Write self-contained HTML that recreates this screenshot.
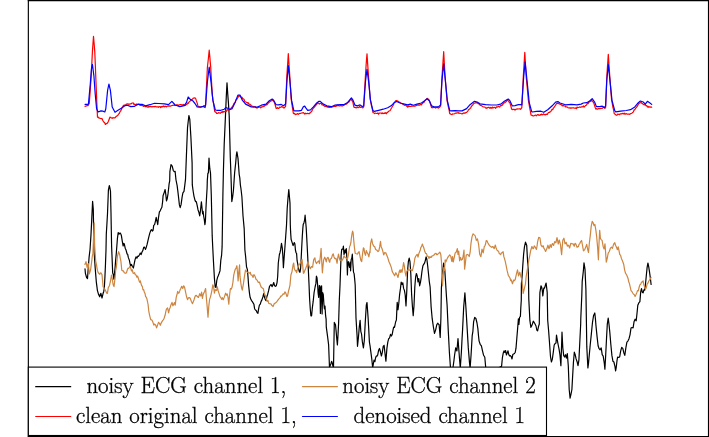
<!DOCTYPE html>
<html><head><meta charset="utf-8"><style>
html,body{margin:0;padding:0;background:#fff;}
body{width:709px;height:437px;overflow:hidden;}
svg{display:block;}
text{stroke:#000;stroke-width:0.3px;font-family:"LM Roman 17","Latin Modern Roman","Liberation Serif",serif;font-size:23.4px;fill:#000;}
</style></head><body>
<svg width="709" height="437" viewBox="0 0 709 437">
<rect x="0" y="0" width="709" height="437" fill="#fff"/>
<g fill="none" stroke-linejoin="round" stroke-linecap="round" stroke-width="1.2">
<polyline stroke="#000" points="85.00,268.8 85.40,273.3 86.60,277.5 87.50,278.5 88.30,267.5 89.10,257.1 90.00,249.8 91.00,234.6 91.80,218.1 92.60,201.3 93.30,209.2 94.00,250.2 95.10,266.8 95.70,274.4 96.30,281.8 97.40,290.3 98.60,294.6 99.70,296.8 100.30,294.4 100.90,293.3 102.00,298.0 103.10,293.3 103.70,291.7 104.30,288.2 104.90,277.4 105.40,266.2 106.00,249.9 106.30,234.1 106.90,224.2 107.50,213.8 108.40,190.2 109.30,185.5 109.90,187.9 110.50,191.4 111.00,213.3 111.60,246.1 112.70,273.0 113.30,274.6 113.90,279.1 115.00,268.6 115.65,260.0 116.30,253.3 117.40,238.7 118.20,232.6 119.10,234.1 120.10,233.0 120.90,234.1 121.40,235.7 122.30,241.3 123.10,246.0 123.70,243.4 124.30,244.0 125.20,248.2 126.00,249.9 127.10,254.0 127.70,254.3 128.30,257.4 129.40,260.4 130.00,263.3 130.60,266.0 131.50,264.4 132.30,266.2 133.40,268.0 134.20,263.9 135.10,259.4 136.10,256.8 136.90,258.2 137.80,256.2 138.60,256.3 139.50,254.8 140.30,253.0 141.10,254.6 142.00,252.0 142.90,250.4 143.70,247.4 144.50,247.1 145.40,249.4 146.30,247.2 147.10,244.4 147.90,240.8 148.90,236.7 149.80,233.1 150.90,230.3 151.63,229.6 152.37,231.1 153.10,230.3 153.70,225.4 154.60,224.6 155.40,221.3 156.20,217.3 157.10,221.5 157.70,224.7 158.50,217.7 159.40,211.9 160.20,210.8 161.10,208.7 161.90,207.3 162.60,201.7 163.10,195.4 163.80,193.8 164.60,191.1 165.10,189.5 165.70,193.6 166.50,200.9 167.20,198.8 168.00,193.9 168.60,188.7 169.10,183.9 169.70,180.8 169.90,171.7 171.00,164.6 172.20,166.2 173.30,170.5 174.20,171.7 175.10,171.3 176.00,180.0 177.10,185.4 177.90,191.6 178.60,197.8 179.40,204.9 180.20,207.6 181.10,204.4 182.10,197.2 182.90,192.9 184.00,191.4 184.80,185.2 185.50,179.4 186.40,156.1 187.50,127.9 188.20,121.5 188.90,115.5 189.80,119.4 190.90,137.3 192.10,162.7 192.30,184.9 193.20,191.5 194.00,196.3 195.10,200.6 195.70,201.6 196.30,201.6 197.10,205.1 198.00,209.7 198.90,212.4 199.70,215.9 200.50,210.3 201.40,201.9 202.00,207.8 202.60,213.8 203.10,211.4 203.70,216.5 204.30,219.7 204.90,224.7 205.40,221.1 206.00,207.5 206.60,196.2 207.10,188.0 207.30,180.4 207.90,173.0 208.40,173.0 209.00,158.0 209.80,168.7 210.50,172.8 211.30,195.4 212.20,235.9 212.80,248.5 213.40,260.3 214.40,278.1 215.20,287.0 216.00,287.4 216.80,280.3 217.60,277.2 218.25,275.7 218.90,274.0 220.00,270.9 220.80,260.4 221.60,255.2 222.10,246.9 222.90,194.5 223.40,171.5 224.20,144.3 224.90,128.6 225.60,112.7 226.30,96.2 227.00,82.8 227.73,93.9 228.47,103.6 229.20,115.8 230.30,157.4 230.95,174.8 231.60,195.1 231.80,201.6 232.60,197.2 233.40,190.7 234.60,173.1 235.70,162.9 236.30,155.7 236.90,151.9 238.00,158.4 239.20,174.5 239.80,177.9 240.40,185.1 241.00,189.0 241.90,196.7 243.00,215.7 244.20,228.9 244.90,250.0 245.70,257.4 246.50,266.8 247.40,269.6 248.00,276.8 248.60,285.1 249.40,292.6 250.10,297.3 250.90,299.4 251.70,300.8 252.30,301.5 253.10,302.9 253.90,304.2 254.60,308.7 255.40,310.0 256.20,310.5 257.10,312.6 257.90,313.3 258.60,308.8 259.40,305.1 260.30,304.1 261.10,301.4 261.90,299.9 262.90,296.9 263.70,293.7 264.60,297.6 265.40,299.9 266.10,300.7 266.90,296.5 267.70,294.2 268.60,290.7 269.50,286.5 270.30,285.2 271.10,284.6 272.00,286.6 272.90,284.9 273.70,282.5 274.50,285.5 275.40,286.4 276.30,285.7 277.10,282.3 277.70,276.2 278.30,263.0 279.40,254.5 280.00,252.7 280.60,249.9 281.50,243.3 282.30,248.0 282.90,256.7 283.40,267.6 284.00,259.1 284.90,247.5 285.70,236.4 286.50,225.2 287.20,208.5 288.00,198.1 288.80,189.5 290.00,203.2 290.30,224.5 290.60,231.9 291.10,239.3 292.00,242.1 293.10,245.6 294.30,242.5 294.90,244.0 295.40,249.8 296.00,252.5 296.60,253.6 297.10,260.7 297.70,263.6 298.30,267.0 298.90,270.0 299.40,271.9 300.00,272.2 300.60,268.7 301.10,259.7 301.70,247.7 302.30,236.3 302.90,227.5 303.20,224.6 303.90,222.9 304.60,220.1 305.10,215.2 306.20,227.7 307.20,246.5 308.10,264.6 309.00,283.8 309.60,298.7 310.30,309.3 310.90,315.8 311.60,315.8 312.40,307.3 313.20,301.2 314.10,292.5 315.10,287.0 315.90,283.4 316.40,276.2 317.00,277.8 317.60,284.6 318.10,293.0 318.70,297.3 319.30,285.5 319.90,286.0 320.40,313.5 321.00,287.5 321.60,285.9 322.10,314.0 322.70,292.6 323.30,294.7 323.90,304.1 324.40,308.8 325.00,306.0 325.60,315.7 326.10,319.2 326.30,327.2 327.50,335.8 328.60,344.6 329.50,367.6 330.20,365.6 330.90,363.7 331.60,361.3 332.23,363.0 332.87,365.8 333.50,367.8 334.30,322.4 335.50,324.8 336.13,331.4 336.77,338.9 337.40,345.0 338.00,335.0 338.60,323.3 339.30,300.2 340.00,285.7 340.60,268.3 341.10,255.7 341.70,249.4 342.30,249.0 342.90,249.3 343.40,246.2 344.00,254.5 344.60,252.4 345.10,249.9 345.70,252.9 346.30,248.5 346.90,258.3 347.40,275.0 347.80,263.9 348.30,261.7 348.90,264.9 349.50,267.4 350.10,262.2 350.60,270.8 351.20,259.6 351.80,258.2 352.30,254.2 352.90,263.9 353.50,272.1 354.10,273.6 354.60,278.4 355.20,285.0 356.00,318.0 357.10,336.1 357.50,346.3 358.40,337.8 359.30,326.9 360.10,320.3 360.80,331.3 361.50,333.8 362.40,341.9 363.40,348.0 364.30,340.8 365.20,323.2 366.30,305.2 367.00,302.5 368.10,317.7 368.75,329.5 369.40,342.0 370.05,345.8 370.70,350.8 371.80,359.2 372.70,367.9 373.50,363.0 374.00,360.1 374.90,361.7 375.55,358.0 376.20,356.2 376.95,356.1 377.70,354.9 378.60,350.3 379.50,348.5 380.40,351.5 381.40,356.0 382.30,352.4 383.20,346.4 384.10,345.3 385.00,353.5 385.90,361.2 386.90,348.4 387.80,342.2 388.70,338.7 389.60,337.9 390.50,334.4 391.40,336.0 392.10,334.8 392.80,331.1 393.65,327.2 394.50,327.3 395.60,322.0 396.40,319.9 397.20,302.4 398.00,309.8 398.80,303.3 399.60,294.6 400.40,288.9 401.20,282.1 402.00,284.4 402.80,282.9 403.60,288.4 404.40,290.4 405.20,295.0 406.00,305.9 406.80,290.6 407.60,270.5 408.40,261.3 409.20,258.2 410.00,261.9 410.80,273.8 411.60,294.1 412.40,306.2 413.20,315.6 414.00,305.8 414.80,287.2 415.60,277.2 416.40,273.5 417.20,275.9 418.00,281.8 418.80,278.5 419.60,285.8 420.40,282.6 421.20,277.6 422.00,271.0 422.90,265.8 423.70,264.4 424.50,263.2 425.30,260.6 426.10,256.8 426.90,259.5 427.70,266.0 428.50,273.8 429.30,281.6 430.10,286.8 431.10,306.6 432.20,318.7 433.40,327.0 434.50,333.4 435.60,330.1 436.80,324.7 437.90,323.2 438.50,324.2 439.10,324.5 440.20,337.4 440.90,317.9 441.40,288.1 442.50,272.1 443.60,263.2 444.80,270.1 445.90,287.8 446.50,297.1 447.10,305.3 448.20,329.4 449.40,352.5 450.50,368.1 451.17,369.6 451.83,371.2 452.50,371.7 453.20,366.0 453.90,360.8 454.60,355.0 455.70,347.8 456.90,351.0 458.00,338.5 458.70,348.0 459.60,359.7 460.30,367.9 461.40,351.8 462.00,339.7 462.60,329.4 463.70,306.9 464.90,292.9 466.00,308.8 467.20,329.1 468.30,347.9 469.50,362.6 470.10,368.1 471.10,354.5 472.20,335.6 472.90,331.3 473.60,321.9 474.70,317.4 475.90,318.5 477.00,323.0 477.90,328.9 478.50,335.7 479.10,341.1 480.20,344.3 481.40,345.9 482.50,350.8 483.60,355.3 484.80,357.3 485.90,369.6 486.51,370.4 487.12,371.7 487.73,371.7 488.34,372.7 488.95,371.5 489.56,373.9 490.17,374.0 490.78,372.6 491.39,375.9 492.00,376.0 492.61,373.8 493.22,374.1 493.83,374.8 494.44,371.7 495.05,370.7 495.66,370.8 496.27,371.0 496.88,370.5 497.49,371.0 498.10,370.1 498.83,367.5 499.57,367.8 500.30,366.7 500.95,366.9 501.60,366.1 502.40,357.7 503.20,353.3 504.00,350.9 504.80,352.4 505.60,350.5 506.40,355.0 507.20,353.1 508.00,350.8 508.80,354.6 509.60,355.8 510.40,355.6 511.20,356.6 512.00,359.0 512.80,354.6 513.60,354.1 514.40,353.5 515.20,352.5 516.00,348.2 516.80,338.5 517.60,328.9 518.40,318.9 518.90,324.4 519.60,317.3 520.40,316.4 520.80,307.8 521.30,300.0 521.40,283.6 522.10,276.1 522.80,265.4 523.60,254.5 524.40,247.2 525.50,242.1 526.10,243.6 526.70,245.1 527.30,256.2 528.40,273.6 528.80,299.2 529.30,309.0 529.90,320.7 530.90,327.3 531.70,325.9 532.50,323.8 533.30,321.2 534.10,322.3 534.90,323.7 536.00,326.0 536.80,330.0 537.60,330.9 538.50,326.7 539.30,324.0 539.40,311.9 539.90,292.6 541.00,285.9 541.60,287.0 542.20,289.8 542.80,296.0 543.80,288.0 544.45,288.2 545.10,286.2 546.10,283.0 547.20,292.4 547.70,320.3 548.70,331.9 549.60,344.0 550.50,356.7 551.40,362.0 552.30,359.4 553.20,352.9 554.20,345.0 555.10,343.6 556.00,343.0 556.50,335.0 557.30,340.1 558.20,345.0 559.10,349.4 560.00,355.2 560.90,365.7 561.50,347.8 562.00,332.2 562.80,347.7 563.70,355.6 564.60,357.0 565.50,354.7 566.40,358.2 567.30,353.5 568.30,366.0 569.20,389.5 570.10,398.1 571.00,394.1 571.90,389.5 572.50,378.5 573.40,362.9 574.30,352.2 575.20,354.6 576.10,358.9 577.10,361.7 578.00,365.6 578.90,360.1 579.80,342.3 580.70,323.8 580.80,318.1 581.80,295.3 582.20,281.4 583.40,270.5 584.00,262.8 585.00,269.4 585.90,289.2 586.80,346.9 587.90,368.0 588.50,363.4 589.10,356.9 590.20,345.0 591.40,333.4 592.50,322.3 593.60,315.4 594.80,313.0 595.40,318.5 596.00,326.0 597.10,336.9 598.10,345.7 599.10,348.7 600.10,349.8 601.20,347.9 602.20,354.7 603.20,356.1 604.30,363.2 604.90,369.1 605.70,355.0 606.50,339.0 607.30,324.1 608.20,318.0 609.00,324.3 609.80,332.1 610.80,344.0 611.90,355.4 612.90,361.2 613.90,362.0 615.00,366.7 615.60,371.0 616.20,367.6 617.00,360.7 617.60,357.2 618.70,357.5 619.70,356.7 620.70,350.9 621.70,347.3 622.80,348.4 623.80,352.7 624.80,355.4 625.90,347.6 626.90,342.1 627.90,341.1 629.00,338.7 630.00,334.8 631.00,328.1 632.00,327.5 633.10,327.9 634.10,321.4 635.10,319.2 636.20,320.8 637.20,311.5 637.80,305.3 638.80,302.9 639.90,301.6 640.70,291.8 641.50,288.6 642.30,292.2 643.10,292.9 643.90,289.9 644.70,290.2 645.50,284.0 646.30,275.7 647.10,267.6 647.90,263.0 648.70,266.6 649.50,271.8 650.30,277.6 651.10,284.5"/>
<polyline stroke="#ff0000" points="85.10,106.4 85.83,106.0 86.57,105.9 87.30,105.4 87.97,105.6 88.63,104.5 89.30,103.2 89.93,94.4 90.57,85.1 91.20,75.7 91.80,64.2 92.40,51.9 93.50,36.3 94.15,43.9 94.80,52.1 95.45,68.5 96.10,85.1 97.00,106.9 97.50,117.1 98.27,117.2 99.03,118.1 99.80,118.2 100.53,118.5 101.27,118.7 102.00,118.6 102.85,120.5 103.70,122.0 104.55,122.6 105.40,124.5 106.17,123.6 106.93,123.7 107.70,122.7 108.43,121.2 109.17,119.2 109.90,117.1 110.67,117.6 111.43,117.8 112.20,118.4 112.90,117.7 113.60,117.8 114.30,117.9 115.00,118.0 115.73,116.9 116.47,116.2 117.20,115.9 117.90,115.3 118.60,113.9 119.30,113.5 120.00,111.7 120.70,111.0 121.40,109.6 122.10,107.4 122.80,106.6 123.50,105.4 124.20,105.0 124.90,105.0 125.60,105.2 126.30,104.1 126.98,104.0 127.66,103.8 128.34,104.3 129.02,104.0 129.70,104.1 130.43,103.8 131.17,103.8 131.90,103.1 132.58,103.0 133.26,102.9 133.94,104.4 134.62,104.2 135.30,104.7 135.98,104.4 136.66,104.1 137.34,104.6 138.02,104.4 138.70,104.2 139.38,104.3 140.06,105.5 140.74,105.2 141.42,105.5 142.10,105.6 142.78,105.6 143.46,106.4 144.14,106.2 144.82,106.2 145.50,106.7 146.14,106.4 146.79,106.8 147.43,107.1 148.07,106.4 148.71,107.2 149.36,106.5 150.00,106.7 150.64,106.4 151.29,106.7 151.93,106.8 152.57,106.7 153.21,106.6 153.86,106.6 154.50,106.8 155.14,106.3 155.79,106.7 156.43,106.8 157.07,106.9 157.71,106.8 158.36,107.3 159.00,106.5 160.00,106.8 160.62,107.5 161.24,106.4 161.87,107.1 162.49,106.3 163.11,106.7 163.73,105.9 164.36,106.8 164.98,106.4 165.60,106.2 166.23,106.9 166.87,106.5 167.50,106.2 168.13,105.9 168.77,106.1 169.40,105.9 170.03,106.2 170.67,106.1 171.30,105.7 171.94,105.5 172.59,105.4 173.23,105.1 173.87,105.3 174.51,105.3 175.16,105.5 175.80,105.4 176.44,104.8 177.09,105.2 177.73,104.8 178.37,105.6 179.01,104.8 179.66,104.9 180.30,104.5 180.94,104.5 181.59,104.9 182.23,104.8 182.87,105.1 183.51,104.5 184.16,105.4 184.80,105.0 185.48,105.4 186.16,104.3 186.84,104.4 187.52,103.2 188.20,103.4 188.97,102.1 189.73,101.4 190.50,100.7 191.20,99.9 191.90,99.4 192.60,98.9 193.30,98.0 194.07,98.1 194.83,97.8 195.60,98.4 196.40,100.9 197.20,103.1 197.80,105.4 198.40,106.7 199.08,106.6 199.76,107.0 200.44,106.9 201.12,106.8 201.80,106.5 202.50,106.5 203.20,106.3 203.90,105.6 204.60,105.8 205.60,105.1 206.20,91.8 206.80,80.0 207.40,67.3 208.30,59.2 209.20,50.2 209.95,58.4 210.70,67.3 211.50,81.3 212.30,95.0 213.10,101.0 213.90,106.2 214.70,111.4 215.33,112.2 215.97,112.0 216.60,113.4 217.60,113.3 218.24,112.9 218.89,112.6 219.53,113.0 220.17,113.3 220.81,112.6 221.46,112.0 222.10,112.6 222.74,111.4 223.39,112.1 224.03,111.5 224.67,111.8 225.31,111.0 225.96,111.6 226.60,111.0 227.25,110.0 227.90,109.6 228.55,109.9 229.20,110.2 229.85,109.5 230.50,109.2 231.22,108.0 231.95,107.2 232.68,106.0 233.40,104.7 234.06,103.2 234.72,102.8 235.38,101.8 236.04,99.7 236.70,99.4 237.47,98.3 238.23,97.0 239.00,95.9 240.00,96.3 240.68,97.0 241.36,97.1 242.04,97.3 242.72,98.8 243.40,98.9 244.08,99.5 244.76,101.4 245.44,101.8 246.12,102.1 246.80,102.3 247.44,103.1 248.09,102.6 248.73,103.9 249.37,104.1 250.01,104.4 250.66,104.8 251.30,105.9 251.92,106.1 252.54,106.3 253.17,106.8 253.79,106.4 254.41,106.5 255.03,106.5 255.66,107.2 256.28,107.8 256.90,107.8 257.53,107.9 258.17,107.2 258.80,107.3 259.43,107.1 260.07,106.9 260.70,107.9 261.33,107.4 261.97,106.7 262.60,106.8 263.24,106.6 263.89,105.8 264.53,106.1 265.17,105.2 265.81,105.2 266.46,104.7 267.10,104.6 267.78,103.6 268.46,102.8 269.14,102.3 269.82,101.7 270.50,101.2 271.23,100.8 271.97,100.7 272.70,99.7 273.55,100.9 274.40,102.5 275.25,105.0 276.10,108.4 276.80,108.3 277.50,107.7 278.20,108.5 278.90,108.4 279.62,107.0 280.35,107.3 281.07,107.1 281.80,106.6 282.53,106.9 283.27,107.4 284.00,108.2 284.80,107.2 285.60,106.5 286.80,76.5 287.55,65.6 288.30,53.7 289.05,65.2 289.80,76.4 290.45,86.9 291.10,98.5 291.87,103.8 292.63,109.0 293.40,113.4 294.00,113.7 294.60,113.4 295.20,114.4 295.80,114.6 296.40,114.2 297.06,114.1 297.71,113.6 298.37,114.3 299.03,113.8 299.69,113.4 300.34,113.4 301.00,113.2 301.64,113.0 302.29,112.8 302.93,112.8 303.57,112.7 304.21,113.5 304.86,114.2 305.50,113.2 306.16,113.6 306.82,113.7 307.48,113.3 308.14,113.7 308.80,113.5 309.57,113.6 310.33,112.4 311.10,112.0 311.78,111.2 312.46,109.8 313.14,108.3 313.82,107.7 314.50,107.0 315.18,106.1 315.86,105.4 316.54,104.2 317.22,103.8 317.90,103.1 318.60,103.2 319.30,104.0 320.00,103.5 320.68,103.5 321.36,103.6 322.04,104.9 322.72,104.8 323.40,105.4 324.08,105.7 324.76,106.4 325.44,106.5 326.12,106.3 326.80,106.7 327.44,107.2 328.09,106.4 328.73,107.4 329.37,107.4 330.01,107.4 330.66,107.1 331.30,107.3 331.92,106.7 332.54,106.9 333.17,106.5 333.79,106.6 334.41,106.2 335.03,106.4 335.66,106.5 336.28,105.5 336.90,106.0 337.53,105.1 338.17,105.0 338.80,105.8 339.43,105.8 340.07,106.0 340.70,105.2 341.33,105.8 341.97,105.8 342.60,106.0 343.24,105.4 343.89,105.3 344.53,104.5 345.17,104.4 345.81,104.0 346.46,104.1 347.10,103.3 347.75,102.5 348.40,102.2 349.05,101.9 349.70,100.6 350.35,99.9 351.00,98.9 351.85,100.5 352.70,101.4 353.90,107.2 354.63,107.4 355.37,107.4 356.10,108.0 356.78,107.5 357.46,107.1 358.14,107.7 358.82,107.3 359.50,106.5 360.18,107.5 360.86,107.2 361.54,107.0 362.22,107.7 362.90,107.8 363.70,106.7 364.33,94.9 364.97,84.3 365.60,73.1 366.30,62.4 367.00,53.8 367.65,63.6 368.30,72.9 368.90,81.6 369.50,90.0 370.10,98.5 370.80,101.9 371.50,105.9 372.20,108.4 372.90,112.3 373.50,112.8 374.10,113.0 374.70,113.6 375.34,113.1 375.98,113.3 376.61,113.5 377.25,113.5 377.89,113.0 378.52,114.3 379.16,113.0 379.80,113.1 380.44,113.0 381.09,113.0 381.73,113.6 382.37,112.9 383.01,113.6 383.66,113.5 384.30,112.9 384.98,113.4 385.66,112.7 386.34,113.8 387.02,112.6 387.70,112.4 388.40,111.4 389.10,111.0 389.80,110.7 390.50,110.1 391.23,108.5 391.95,107.3 392.67,106.0 393.40,105.0 394.13,102.9 394.87,102.1 395.60,100.9 396.37,100.6 397.13,100.8 397.90,101.1 398.60,101.9 399.30,102.0 400.00,102.3 400.64,103.0 401.29,103.3 401.93,103.5 402.57,104.1 403.21,104.1 403.86,105.0 404.50,105.3 405.14,105.2 405.79,105.1 406.43,106.2 407.07,105.9 407.71,107.1 408.36,106.0 409.00,106.5 409.64,106.2 410.29,106.4 410.93,106.5 411.57,105.9 412.21,106.1 412.86,106.1 413.50,106.0 414.16,106.1 414.81,106.1 415.47,105.9 416.13,105.6 416.79,105.3 417.44,104.9 418.10,105.1 418.76,104.9 419.42,105.2 420.08,104.8 420.74,104.4 421.40,104.8 422.12,103.7 422.85,103.0 423.57,102.5 424.30,102.0 425.00,100.2 425.70,99.8 426.40,99.4 427.10,98.4 427.83,98.8 428.57,99.4 429.30,100.4 430.07,102.5 430.83,105.3 431.60,107.6 432.28,107.4 432.96,107.8 433.64,107.5 434.32,107.5 435.00,107.6 435.64,108.1 436.29,107.6 436.93,107.5 437.57,107.2 438.21,108.2 438.86,107.8 439.50,107.5 440.60,105.9 441.30,90.8 442.00,76.7 442.85,64.4 443.70,51.7 444.40,64.7 445.10,76.7 445.73,84.2 446.37,92.3 447.00,100.3 447.68,103.7 448.35,106.8 449.02,109.5 449.70,113.6 450.55,113.9 451.40,114.5 452.02,114.6 452.65,113.9 453.27,114.0 453.90,114.0 454.52,113.8 455.15,113.3 455.77,113.0 456.40,113.1 457.03,112.9 457.67,113.0 458.30,112.6 458.93,113.4 459.57,113.1 460.20,113.3 460.83,113.5 461.47,113.7 462.10,114.0 462.74,113.6 463.39,112.9 464.03,113.3 464.67,112.9 465.31,113.1 465.96,112.5 466.60,112.5 467.28,111.6 467.96,110.8 468.64,109.6 469.32,109.2 470.00,108.6 470.65,108.1 471.30,106.6 471.95,105.7 472.60,105.1 473.25,104.1 473.90,103.3 474.60,103.1 475.30,102.7 476.00,103.0 476.70,102.7 477.36,102.8 478.02,103.6 478.68,103.5 479.34,104.5 480.00,105.0 480.62,105.4 481.24,105.6 481.87,106.0 482.49,106.3 483.11,106.8 483.73,107.0 484.36,107.0 484.98,107.1 485.60,108.0 486.23,108.3 486.87,107.6 487.50,108.0 488.13,107.3 488.77,107.3 489.40,107.7 490.03,108.3 490.67,107.4 491.30,107.7 491.92,108.3 492.54,107.0 493.17,107.8 493.79,107.7 494.41,107.4 495.03,107.5 495.66,108.3 496.28,106.9 496.90,107.1 497.54,106.9 498.19,106.6 498.83,106.1 499.47,107.0 500.11,106.3 500.76,105.4 501.40,105.7 502.12,105.2 502.85,104.5 503.57,103.2 504.30,103.0 504.98,102.5 505.66,102.0 506.34,101.5 507.02,100.1 507.70,100.5 508.43,101.0 509.17,102.3 509.90,102.9 510.75,105.7 511.60,109.0 512.28,109.6 512.96,109.4 513.64,109.4 514.32,109.3 515.00,110.1 515.68,109.5 516.36,109.0 517.04,109.2 517.72,108.8 518.40,109.0 519.13,108.9 519.87,108.8 520.60,109.3 521.80,107.7 522.55,92.5 523.30,76.8 524.05,64.4 524.80,52.4 525.50,64.6 526.20,76.8 526.93,84.5 527.67,92.5 528.40,100.4 529.05,104.2 529.70,107.9 530.35,111.1 531.00,114.9 531.67,115.3 532.33,115.4 533.00,116.0 533.66,116.0 534.31,115.6 534.97,115.3 535.63,115.0 536.29,115.8 536.94,115.3 537.60,114.6 538.24,114.5 538.89,115.4 539.53,115.2 540.17,114.7 540.81,115.1 541.46,114.1 542.10,114.6 542.74,114.8 543.39,113.9 544.03,114.2 544.67,114.7 545.31,114.8 545.96,114.1 546.60,114.4 547.28,114.4 547.96,113.2 548.64,112.5 549.32,112.4 550.00,111.9 550.68,111.7 551.36,110.5 552.04,109.4 552.72,109.7 553.40,108.0 554.06,107.3 554.72,106.4 555.38,105.5 556.04,104.3 556.70,103.4 557.36,103.4 558.02,103.1 558.68,103.7 559.34,103.9 560.00,104.1 560.62,104.5 561.24,104.5 561.87,105.5 562.49,105.9 563.11,104.9 563.73,106.0 564.36,106.0 564.98,105.7 565.60,107.0 566.23,106.8 566.87,107.0 567.50,107.1 568.13,107.8 568.77,108.0 569.40,107.8 570.03,108.1 570.67,107.9 571.30,108.1 571.94,107.8 572.57,108.0 573.21,107.7 573.85,108.0 574.48,108.2 575.12,107.9 575.75,108.2 576.39,108.7 577.03,107.0 577.66,107.7 578.30,107.5 578.94,107.3 579.58,106.9 580.22,107.3 580.86,107.1 581.50,106.9 582.14,106.9 582.78,106.7 583.42,106.0 584.06,107.1 584.70,106.5 585.40,105.6 586.10,105.4 586.80,104.4 587.50,103.3 588.20,103.6 588.90,102.1 589.60,101.9 590.30,101.3 591.00,101.1 591.70,100.1 592.43,101.1 593.17,102.0 593.90,103.3 594.60,105.6 595.30,107.8 596.00,109.1 596.70,108.7 597.40,109.2 598.10,108.6 598.80,108.5 599.50,108.6 600.20,108.6 600.90,108.3 601.60,108.3 602.30,108.3 603.00,107.7 603.63,107.0 604.27,107.5 604.90,108.3 605.60,107.8 606.80,77.0 607.55,65.4 608.30,54.3 609.05,65.8 609.80,76.8 610.40,84.5 611.00,92.6 611.60,100.2 612.25,103.3 612.90,107.3 613.55,109.6 614.20,113.5 614.93,114.1 615.67,114.8 616.40,115.3 617.03,115.1 617.67,114.0 618.30,114.3 618.93,114.3 619.57,114.6 620.20,113.8 620.83,113.8 621.47,113.7 622.10,113.9 622.72,113.3 623.34,113.4 623.97,114.1 624.59,113.2 625.21,114.1 625.83,113.9 626.46,113.6 627.08,114.1 627.70,114.1 628.40,114.2 629.10,114.1 629.80,114.3 630.50,113.6 631.20,113.5 631.90,113.2 632.62,112.4 633.35,111.9 634.07,109.9 634.80,109.8 635.40,108.6 636.00,107.9 636.60,107.1 637.20,106.4 637.80,105.3 638.40,104.2 639.00,103.5 639.70,103.1 640.40,102.7 641.10,102.4 641.80,103.3 642.50,103.6 643.20,104.3 643.90,104.6 644.60,105.0 645.30,104.6 646.00,105.8 646.70,105.6 647.43,106.5 648.15,107.4 648.88,106.5 649.60,107.1 650.30,107.1 651.00,106.9 651.70,107.2"/>
<polyline stroke="#cd853f" points="84.90,264.5 86.00,261.6 87.10,267.3 87.70,264.9 88.30,263.5 89.40,273.9 90.60,269.8 91.70,261.3 92.30,256.2 92.90,253.6 93.55,237.8 94.20,222.8 94.60,244.9 95.70,261.1 96.55,265.2 97.40,270.4 98.25,272.7 99.10,273.9 99.70,274.4 100.30,273.1 100.90,272.9 102.00,274.6 103.10,286.8 103.70,287.3 104.30,288.8 105.40,290.2 106.60,293.1 107.40,293.3 108.30,287.6 109.40,285.8 110.60,280.5 111.50,275.0 112.30,279.0 113.10,284.5 114.00,286.6 115.10,277.7 115.70,270.0 116.30,267.5 117.40,256.5 118.60,251.6 119.70,254.7 120.30,258.6 120.90,261.2 121.80,270.2 122.65,270.8 123.50,270.9 124.27,272.8 125.03,273.0 125.80,273.3 126.53,272.6 127.27,270.0 128.00,268.2 128.63,268.3 129.27,267.6 129.90,266.3 130.70,268.0 131.50,271.0 132.27,269.7 133.03,273.0 133.80,273.4 134.57,272.7 135.33,274.8 136.10,275.1 136.87,277.2 137.63,276.1 138.40,278.5 139.05,280.7 139.70,282.3 140.35,280.8 141.00,283.6 141.68,285.7 142.35,286.5 143.02,289.9 143.70,289.7 144.35,292.3 145.00,293.4 145.63,296.6 146.27,297.2 146.90,298.8 148.10,304.5 148.75,310.9 149.40,314.3 150.05,317.1 150.70,319.5 151.30,319.9 151.90,320.0 152.55,321.2 153.20,323.1 153.80,325.1 154.40,324.1 155.05,324.5 155.70,325.2 156.60,327.9 157.60,324.9 158.60,322.3 159.50,323.3 160.30,325.3 161.40,322.6 162.60,320.6 163.25,319.8 163.90,318.9 165.10,315.3 165.75,311.9 166.40,309.2 167.60,308.0 168.60,312.8 169.50,308.9 170.15,307.5 170.80,305.3 172.00,302.4 172.90,305.8 173.90,303.9 174.55,302.6 175.20,305.1 176.20,297.4 177.10,294.0 177.70,291.4 178.30,293.1 178.95,293.1 179.60,291.4 180.20,289.6 180.80,288.5 181.70,286.3 182.70,288.5 183.70,285.8 184.60,287.4 185.50,291.6 186.50,296.5 187.50,299.6 188.40,297.9 189.30,297.5 190.30,298.5 191.30,301.3 192.50,303.6 193.40,301.4 194.05,299.7 194.70,297.5 195.30,296.0 195.90,295.3 196.55,295.5 197.20,296.6 197.85,297.1 198.50,297.4 199.70,293.7 200.00,294.7 200.80,296.0 201.60,292.0 202.40,298.3 203.20,294.4 203.85,292.9 204.50,291.8 205.60,288.5 206.40,298.2 207.20,307.1 208.00,317.1 208.80,306.1 209.60,299.4 210.40,297.1 211.20,293.8 212.00,290.0 212.80,284.8 213.60,286.7 214.40,293.2 215.20,289.6 216.00,290.4 216.65,290.3 217.30,286.9 218.10,290.4 218.90,293.1 220.00,296.6 220.80,297.6 221.60,299.3 222.40,297.7 223.20,299.8 224.00,297.9 224.80,295.6 225.60,293.2 226.40,295.2 227.20,293.9 228.00,297.4 228.80,304.1 229.60,295.0 230.40,288.5 231.30,289.1 232.10,287.0 232.90,282.4 233.70,275.4 234.50,271.8 235.30,269.2 236.10,268.2 236.90,265.7 237.70,274.4 238.10,281.0 238.80,272.0 239.60,264.9 240.00,276.4 241.10,285.0 241.70,288.3 242.30,290.1 243.40,283.9 244.60,275.3 245.50,270.1 246.30,271.2 247.40,272.2 248.60,272.8 249.70,273.2 250.30,272.3 250.90,274.9 252.00,275.1 253.10,277.4 253.90,274.6 254.90,276.0 256.00,279.2 257.10,280.1 258.30,282.5 259.40,282.0 260.30,284.8 261.10,287.0 262.30,288.0 263.40,288.8 264.00,292.0 264.60,293.9 265.40,295.8 266.30,299.0 267.40,301.4 268.00,300.4 268.60,303.2 269.70,303.6 270.90,303.9 272.00,305.6 273.10,306.4 274.30,303.6 275.40,303.0 276.00,302.4 276.60,302.0 277.70,300.4 278.90,298.8 280.00,297.7 280.75,296.0 281.50,296.1 282.30,295.2 283.10,293.9 284.00,294.3 284.90,291.9 285.53,292.5 286.17,294.2 286.80,296.4 287.60,295.9 288.40,291.7 289.20,288.5 290.00,285.1 290.90,275.0 292.00,271.6 293.10,264.8 293.70,263.0 294.30,268.5 295.40,270.9 296.00,270.4 296.60,272.6 297.70,268.4 298.90,265.0 300.00,263.5 301.10,261.3 302.10,259.5 302.90,267.7 303.40,273.3 304.00,272.8 304.60,271.0 305.70,268.4 306.90,265.3 308.00,261.8 309.10,266.1 310.30,268.7 311.40,266.6 312.00,266.9 312.60,267.2 313.70,259.6 314.90,257.8 315.40,261.5 316.50,263.5 317.15,262.2 317.80,261.7 318.65,260.9 319.50,263.6 320.30,257.0 321.10,248.3 321.75,261.8 322.40,272.8 323.00,265.9 323.60,260.1 324.70,257.2 325.50,259.0 326.30,261.9 327.10,258.2 327.90,257.3 328.50,258.4 329.10,261.2 329.70,262.3 330.33,259.0 330.97,258.8 331.60,257.9 332.40,255.1 333.20,253.8 334.00,256.9 334.80,258.6 336.00,258.3 337.10,263.3 337.70,258.2 338.50,254.2 339.40,258.3 340.00,260.2 340.60,260.1 341.70,260.8 342.90,259.1 344.00,255.6 345.10,257.7 346.30,258.0 347.40,259.2 348.30,255.4 349.10,250.0 349.70,246.2 350.30,245.2 350.90,242.5 351.40,237.8 352.00,233.8 352.60,231.1 353.10,232.6 353.70,239.9 354.30,246.4 355.20,253.3 356.30,253.7 357.50,254.1 358.30,252.4 359.10,251.7 360.00,256.4 360.90,260.5 361.70,261.6 362.50,254.4 363.40,247.9 364.00,248.5 364.60,252.7 365.50,255.3 366.30,250.5 367.10,252.7 368.00,254.0 368.90,256.8 369.70,251.6 370.00,252.6 370.60,243.4 371.70,238.9 372.50,243.7 373.40,245.4 374.00,246.5 374.60,246.5 375.70,249.5 376.90,250.2 378.00,251.6 378.90,250.6 379.70,246.7 380.50,241.3 381.20,247.0 382.00,248.5 382.80,251.2 383.70,254.9 384.60,252.7 385.80,252.8 386.90,255.5 387.70,257.4 388.90,261.5 390.00,264.1 391.20,267.1 392.30,271.6 393.50,273.8 394.60,275.8 395.80,272.7 396.90,274.6 398.00,277.5 399.20,271.6 400.00,270.0 400.40,272.4 401.20,269.8 402.00,272.3 402.80,267.9 403.60,262.7 404.40,266.4 405.20,272.6 406.00,276.1 406.80,271.1 407.60,270.8 408.40,268.9 409.20,270.1 410.00,270.2 410.80,269.3 411.60,270.4 412.40,270.6 413.20,267.3 414.00,264.0 414.80,258.5 415.60,256.5 416.40,255.2 417.20,254.3 418.00,257.1 418.80,253.8 419.60,251.8 420.40,249.7 420.80,247.6 421.60,246.4 422.40,244.0 423.05,245.9 423.70,247.5 424.90,251.8 425.70,253.4 426.50,253.6 427.30,256.2 428.10,256.3 429.00,258.4 429.90,256.5 430.53,257.5 431.17,257.4 431.80,256.1 432.60,256.0 433.40,255.3 434.20,254.9 435.00,253.7 436.00,253.3 436.70,254.6 437.40,254.6 438.05,253.8 438.70,253.4 439.80,252.1 440.80,254.5 441.50,261.9 441.90,272.8 442.50,285.7 443.10,277.1 443.80,267.6 444.50,270.6 445.20,259.8 445.90,261.9 446.70,259.9 447.70,257.5 448.60,256.4 449.70,254.9 450.80,256.3 451.80,261.3 452.50,256.6 453.20,262.0 454.10,258.0 455.20,252.9 456.30,252.0 457.30,248.6 458.00,254.5 458.70,251.1 459.60,260.8 460.50,257.3 461.40,260.1 462.40,259.3 463.20,256.0 464.00,250.0 464.60,269.1 465.30,264.0 466.20,255.3 467.30,254.4 468.30,255.1 469.20,256.5 470.10,252.7 471.00,243.1 472.00,236.9 473.10,233.8 474.20,234.9 475.10,235.6 475.80,238.1 476.30,240.3 477.50,239.0 478.60,244.3 479.70,254.2 480.90,256.7 482.00,249.2 483.20,252.9 484.30,246.5 484.93,245.8 485.57,244.0 486.20,240.7 487.00,240.8 487.80,242.7 488.60,244.2 489.40,245.4 490.00,246.0 490.60,246.5 491.20,246.9 491.80,247.3 492.40,246.6 493.00,246.6 494.20,248.7 495.30,245.0 496.10,247.9 496.90,249.8 497.70,251.0 498.50,251.1 499.20,253.4 499.90,253.9 500.70,254.6 501.50,252.8 502.30,252.6 503.10,251.7 503.80,256.4 504.50,258.6 505.30,261.7 506.10,265.4 507.20,270.9 508.40,275.7 509.20,276.7 510.00,278.0 510.65,280.6 511.30,280.0 512.50,283.7 513.60,280.1 514.40,280.7 515.20,279.7 516.40,274.2 517.50,269.9 518.60,275.8 519.80,272.2 520.90,276.6 521.50,278.4 522.10,281.6 523.20,293.4 524.40,288.3 525.50,283.8 526.10,277.0 527.30,269.5 528.40,263.0 529.00,259.4 529.60,256.3 530.70,250.5 531.90,246.5 533.00,248.7 533.60,248.4 534.20,245.8 535.30,247.2 536.40,249.4 537.00,246.5 537.60,241.9 538.70,237.3 539.90,237.7 541.00,245.2 541.60,245.9 542.20,246.8 543.30,245.8 543.90,248.3 544.50,249.0 545.60,251.4 546.70,249.1 547.90,245.2 549.00,248.7 549.60,246.9 550.20,244.7 551.30,247.5 551.90,244.5 552.50,243.6 553.60,245.4 554.70,241.7 555.90,242.7 557.00,237.7 557.60,240.5 558.20,244.0 559.30,240.0 559.90,242.3 560.50,244.9 561.60,254.6 562.80,240.3 563.90,238.2 565.00,243.8 565.60,243.4 566.20,242.3 567.30,246.1 567.90,245.0 568.50,245.2 569.60,248.0 570.80,243.3 571.90,243.8 572.50,243.8 573.10,243.8 574.20,246.3 575.00,243.4 575.70,243.7 576.40,245.4 577.05,247.4 577.70,246.7 578.40,246.6 579.10,244.2 579.80,243.6 580.50,241.9 581.60,240.5 582.60,246.0 583.50,250.8 584.60,249.9 585.70,247.1 586.70,244.4 587.60,249.0 588.50,252.5 589.40,242.7 590.40,234.4 591.20,226.4 592.20,221.3 593.10,222.7 594.00,225.6 594.90,224.5 595.90,230.5 596.70,237.0 597.70,248.6 598.40,259.8 599.00,243.6 599.70,230.4 600.40,238.2 601.10,239.6 602.10,240.4 603.20,246.7 604.10,249.0 605.00,243.9 605.50,251.2 606.30,262.1 607.30,258.0 608.20,253.1 609.30,251.5 610.40,248.2 611.40,247.2 612.40,248.4 613.50,244.6 614.15,243.4 614.80,242.7 615.00,243.8 615.80,245.8 616.60,247.5 617.40,249.7 618.20,246.9 619.00,250.6 619.80,254.6 620.60,255.3 621.40,258.4 622.20,260.2 623.00,262.2 623.80,264.8 624.60,269.8 625.40,272.9 626.20,274.2 627.00,275.7 627.90,277.9 628.70,281.5 629.50,283.9 630.30,287.3 631.10,290.8 631.90,291.4 632.70,293.0 633.50,294.1 634.30,294.8 635.10,296.4 635.90,294.8 636.70,292.9 637.50,290.6 638.30,290.9 639.10,287.5 639.90,284.7 640.70,284.4 641.50,282.1 642.30,281.9 643.10,280.8 643.90,285.1 644.70,287.3 645.50,289.0 646.30,287.9 647.10,284.2 647.90,283.2 648.70,281.3 649.50,280.0 650.30,279.1 651.10,277.3"/>
<polyline stroke="#0000ff" points="85.10,104.4 87.30,104.4 88.40,104.2 90.20,85.0 91.50,68.5 92.40,64.4 93.90,75.8 95.20,94.0 96.60,108.8 98.10,112.0 100.90,110.9 103.10,111.2 104.80,112.0 105.80,108.8 107.60,90.4 108.90,84.0 110.40,90.4 112.20,107.0 115.00,112.3 118.40,110.1 121.80,108.1 125.10,105.6 127.40,105.2 130.80,106.6 134.20,106.4 137.60,104.4 142.10,104.4 145.50,105.8 150.00,104.7 154.50,103.3 159.00,103.5 164.50,103.8 168.50,104.7 171.90,101.3 175.20,105.0 179.80,106.7 184.30,105.6 186.50,102.4 188.20,97.0 190.50,99.6 192.70,100.7 195.00,103.5 197.20,106.9 200.60,107.2 203.50,106.4 205.10,107.5 205.60,105.0 207.40,82.0 209.20,67.1 211.00,82.0 212.90,100.4 215.30,110.0 217.60,110.3 220.90,110.3 224.30,109.2 226.00,107.5 227.70,108.3 230.00,109.4 232.20,108.6 235.10,102.4 237.90,95.1 240.00,95.1 242.30,100.2 245.60,104.1 251.30,106.9 256.90,107.2 261.40,105.2 266.00,104.1 269.30,100.7 272.20,99.0 273.90,100.7 276.10,104.7 278.40,104.9 281.20,104.4 283.50,105.8 285.60,104.0 287.00,80.3 288.30,65.6 289.80,80.3 291.60,100.4 293.80,110.5 294.70,110.9 298.70,110.9 301.50,110.3 303.20,106.9 304.70,106.1 306.00,108.1 307.70,110.3 310.50,109.8 313.40,106.9 316.70,103.0 319.00,101.3 320.00,101.3 323.40,104.1 326.80,105.8 331.30,106.7 334.70,105.2 340.30,104.7 343.70,104.7 347.70,102.4 351.40,97.9 353.00,100.2 355.00,105.2 357.20,105.8 360.10,104.9 362.30,106.4 363.70,106.0 365.60,80.3 367.00,69.3 368.70,82.1 370.50,100.4 372.90,110.5 374.20,111.4 378.70,110.3 383.20,109.2 387.70,107.8 391.10,105.8 394.50,102.4 396.70,101.5 400.00,103.0 404.50,104.1 407.90,104.9 410.20,104.1 413.50,105.2 416.90,104.1 421.40,103.0 424.30,101.1 427.10,98.8 429.30,100.7 431.60,105.8 433.90,106.9 438.40,106.9 440.60,105.0 442.00,80.3 443.70,63.8 445.50,82.1 447.30,100.4 449.70,110.5 450.80,110.9 455.30,110.7 458.70,110.9 462.10,110.9 466.60,108.6 470.00,104.7 474.50,101.3 477.90,102.4 480.00,103.8 485.60,104.7 491.30,105.0 496.90,105.0 501.40,103.8 504.30,101.3 508.20,99.0 509.90,100.7 512.20,105.8 515.00,105.6 518.40,104.7 520.60,104.7 521.80,105.0 523.70,76.6 525.10,62.0 527.00,80.3 529.20,102.3 531.60,111.4 532.50,112.0 536.40,111.4 540.90,111.2 543.80,112.3 547.70,109.8 552.20,105.8 555.60,102.2 557.90,101.6 560.00,103.0 565.60,104.8 571.30,104.4 576.90,104.8 581.20,104.1 583.30,103.0 586.80,102.7 589.60,101.0 592.20,98.7 594.60,102.0 596.40,106.6 599.50,106.6 602.30,106.2 604.40,107.6 605.60,106.0 606.80,80.3 608.30,64.7 610.10,82.1 612.00,100.4 614.70,110.5 615.70,111.9 620.60,111.2 626.30,110.5 630.50,109.7 634.80,106.9 638.30,102.7 640.40,101.0 643.20,102.0 645.30,104.1 647.40,101.3 649.60,102.7 651.70,104.4"/>
</g>
<g stroke="#000" stroke-width="1.15" stroke-linecap="square">
<line x1="28.35" y1="0.55" x2="708.5" y2="0.55"/>
<line x1="28.35" y1="0.55" x2="28.35" y2="436.5"/>
<line x1="708.5" y1="0.55" x2="708.5" y2="436.5"/>
<line x1="28.35" y1="436.5" x2="708.5" y2="436.5"/>
</g>
<rect x="28.35" y="367.1" width="518.15" height="68.4" fill="#fff" stroke="#000" stroke-width="1.1"/>
<g stroke-width="1.2" stroke-linecap="round">
<line x1="35.7" y1="386.65" x2="70.7" y2="386.65" stroke="#000"/>
<line x1="35.7" y1="416.5" x2="70.7" y2="416.5" stroke="#ff0000"/>
<line x1="302.5" y1="386.55" x2="337.4" y2="386.55" stroke="#cd853f"/>
<line x1="302.5" y1="416.5" x2="337.4" y2="416.5" stroke="#0000ff"/>
</g>
<text x="86.4" y="392.5" textLength="199.9" lengthAdjust="spacingAndGlyphs">noisy ECG channel 1,</text>
<text x="342.3" y="392.5" textLength="193.3" lengthAdjust="spacingAndGlyphs">noisy ECG channel 2</text>
<text x="76.1" y="422.6" textLength="220.5" lengthAdjust="spacingAndGlyphs">clean original channel 1,</text>
<text x="353.5" y="422.6" textLength="171.5" lengthAdjust="spacingAndGlyphs">denoised channel 1</text>
</svg>
</body></html>
